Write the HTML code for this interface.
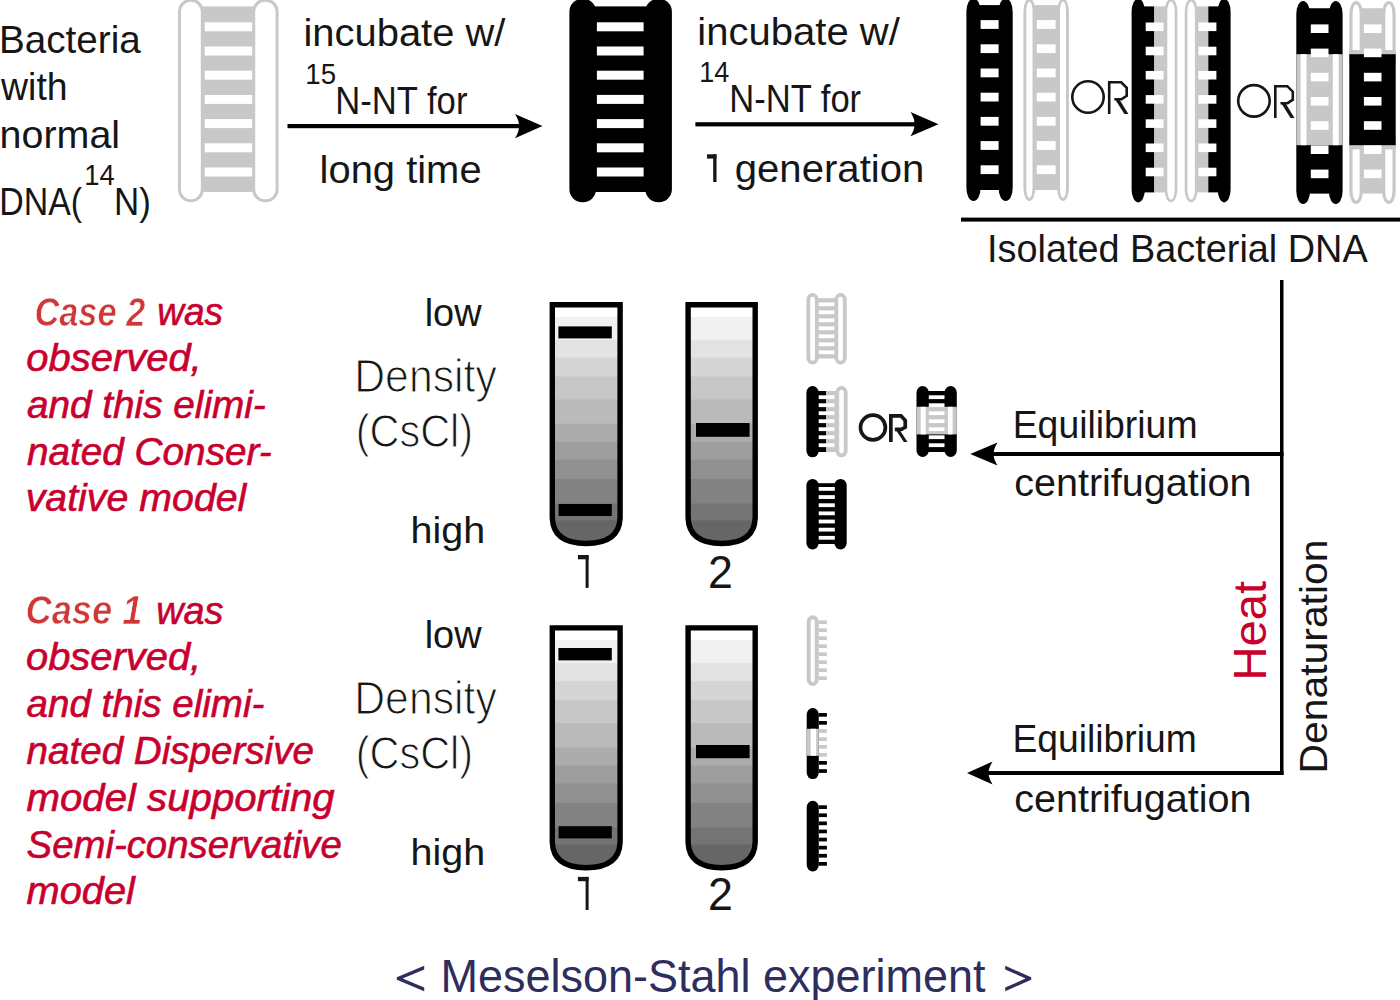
<!DOCTYPE html>
<html><head><meta charset="utf-8"><style>
html,body{margin:0;padding:0;background:#fff;width:1400px;height:1000px;overflow:hidden}
svg{display:block}
</style></head><body>
<svg width="1400" height="1000" viewBox="0 0 1400 1000">
<defs><filter id="soft" x="-5%" y="-20%" width="110%" height="140%"><feGaussianBlur stdDeviation="0.55"/></filter></defs>
<rect width="1400" height="1000" fill="#fff"/>
<rect x="200.00" y="6.40" width="56.00" height="185.60" fill="#c8c8c8"/>
<rect x="178.00" y="-1.20" width="25.80" height="203.50" rx="12.8" ry="12.8" fill="#c8c8c8"/>
<rect x="181.00" y="1.80" width="19.80" height="197.50" rx="9.8" ry="9.8" fill="#fff"/>
<rect x="252.20" y="-1.20" width="26.40" height="203.50" rx="12.8" ry="12.8" fill="#c8c8c8"/>
<rect x="255.20" y="1.80" width="20.40" height="197.50" rx="9.8" ry="9.8" fill="#fff"/>
<rect x="204.70" y="22.30" width="47.50" height="9.00" fill="#fff"/>
<rect x="204.70" y="46.50" width="47.50" height="9.00" fill="#fff"/>
<rect x="204.70" y="70.70" width="47.50" height="9.00" fill="#fff"/>
<rect x="204.70" y="94.90" width="47.50" height="9.00" fill="#fff"/>
<rect x="204.70" y="119.10" width="47.50" height="9.00" fill="#fff"/>
<rect x="204.70" y="143.30" width="47.50" height="9.00" fill="#fff"/>
<rect x="204.70" y="167.50" width="47.50" height="9.00" fill="#fff"/>
<rect x="580.00" y="6.40" width="80.00" height="185.60" fill="#000"/>
<rect x="569.40" y="-1.20" width="26.60" height="203.50" rx="13" ry="13" fill="#000"/>
<rect x="645.30" y="-1.20" width="26.60" height="203.50" rx="13" ry="13" fill="#000"/>
<rect x="596.90" y="22.30" width="46.70" height="9.00" fill="#fff"/>
<rect x="596.90" y="46.50" width="46.70" height="9.00" fill="#fff"/>
<rect x="596.90" y="70.70" width="46.70" height="9.00" fill="#fff"/>
<rect x="596.90" y="94.90" width="46.70" height="9.00" fill="#fff"/>
<rect x="596.90" y="119.10" width="46.70" height="9.00" fill="#fff"/>
<rect x="596.90" y="143.30" width="46.70" height="9.00" fill="#fff"/>
<rect x="596.90" y="167.50" width="46.70" height="9.00" fill="#fff"/>
<rect x="287.5" y="124" width="232" height="4.2" fill="#000"/>
<path d="M515,114 Q519.5,121 518.8,126.1 Q519.5,131 515,138.3 L542.5,126.1 Z" fill="#000"/>
<rect x="695.4" y="122.2" width="220" height="4.2" fill="#000"/>
<path d="M910.5,112 Q915,119 914.3,124.3 Q915,129 910.5,136.3 L938.5,124.3 Z" fill="#000"/>
<rect x="972.00" y="5.10" width="35.00" height="184.90" fill="#000"/>
<rect x="966.40" y="-1.50" width="14.20" height="202.50" rx="7.1" ry="13" fill="#000"/>
<rect x="998.60" y="-1.50" width="14.10" height="202.50" rx="7.1" ry="13" fill="#000"/>
<rect x="980.60" y="20.10" width="18.00" height="8.80" fill="#fff"/>
<rect x="980.60" y="44.30" width="18.00" height="8.80" fill="#fff"/>
<rect x="980.60" y="68.50" width="18.00" height="8.80" fill="#fff"/>
<rect x="980.60" y="92.70" width="18.00" height="8.80" fill="#fff"/>
<rect x="980.60" y="116.90" width="18.00" height="8.80" fill="#fff"/>
<rect x="980.60" y="141.10" width="18.00" height="8.80" fill="#fff"/>
<rect x="980.60" y="165.30" width="18.00" height="8.80" fill="#fff"/>
<rect x="1033.00" y="5.10" width="26.00" height="184.90" fill="#c8c8c8"/>
<rect x="1023.40" y="-1.50" width="12.00" height="202.50" rx="6" ry="13" fill="#c8c8c8"/>
<rect x="1026.30" y="1.40" width="6.20" height="196.70" rx="3.1" ry="10.1" fill="#fff"/>
<rect x="1057.10" y="-1.50" width="11.80" height="202.50" rx="6" ry="13" fill="#c8c8c8"/>
<rect x="1060.00" y="1.40" width="6.00" height="196.70" rx="3.1" ry="10.1" fill="#fff"/>
<rect x="1036.70" y="20.10" width="18.90" height="8.80" fill="#fff"/>
<rect x="1036.70" y="44.30" width="18.90" height="8.80" fill="#fff"/>
<rect x="1036.70" y="68.50" width="18.90" height="8.80" fill="#fff"/>
<rect x="1036.70" y="92.70" width="18.90" height="8.80" fill="#fff"/>
<rect x="1036.70" y="116.90" width="18.90" height="8.80" fill="#fff"/>
<rect x="1036.70" y="141.10" width="18.90" height="8.80" fill="#fff"/>
<rect x="1036.70" y="165.30" width="18.90" height="8.80" fill="#fff"/>
<rect x="1140.00" y="6.40" width="14.30" height="186.00" fill="#000"/>
<rect x="1154.30" y="6.40" width="12.70" height="186.00" fill="#c8c8c8"/>
<rect x="1131.60" y="-1.20" width="13.30" height="203.60" rx="6.6" ry="13" fill="#000"/>
<rect x="1164.60" y="-1.20" width="12.80" height="203.60" rx="6.4" ry="13" fill="#c8c8c8"/>
<rect x="1167.30" y="1.50" width="7.40" height="198.20" rx="3.7" ry="10.3" fill="#fff"/>
<rect x="1145.70" y="22.50" width="17.80" height="8.60" fill="#fff"/>
<rect x="1145.70" y="46.70" width="17.80" height="8.60" fill="#fff"/>
<rect x="1145.70" y="70.90" width="17.80" height="8.60" fill="#fff"/>
<rect x="1145.70" y="95.10" width="17.80" height="8.60" fill="#fff"/>
<rect x="1145.70" y="119.30" width="17.80" height="8.60" fill="#fff"/>
<rect x="1145.70" y="143.50" width="17.80" height="8.60" fill="#fff"/>
<rect x="1145.70" y="167.70" width="17.80" height="8.60" fill="#fff"/>
<rect x="1196.00" y="6.40" width="12.30" height="186.00" fill="#c8c8c8"/>
<rect x="1208.30" y="6.40" width="13.70" height="186.00" fill="#000"/>
<rect x="1184.70" y="-1.20" width="12.90" height="203.60" rx="6.4" ry="13" fill="#c8c8c8"/>
<rect x="1187.40" y="1.50" width="7.50" height="198.20" rx="3.7" ry="10.3" fill="#fff"/>
<rect x="1217.70" y="-1.20" width="12.90" height="203.60" rx="6.5" ry="13" fill="#000"/>
<rect x="1198.40" y="22.50" width="18.00" height="8.60" fill="#fff"/>
<rect x="1198.40" y="46.70" width="18.00" height="8.60" fill="#fff"/>
<rect x="1198.40" y="70.90" width="18.00" height="8.60" fill="#fff"/>
<rect x="1198.40" y="95.10" width="18.00" height="8.60" fill="#fff"/>
<rect x="1198.40" y="119.30" width="18.00" height="8.60" fill="#fff"/>
<rect x="1198.40" y="143.50" width="18.00" height="8.60" fill="#fff"/>
<rect x="1198.40" y="167.70" width="18.00" height="8.60" fill="#fff"/>
<rect x="1300.00" y="8.25" width="40.00" height="185.35" fill="#000"/>
<rect x="1296.30" y="1.00" width="13.70" height="203.00" rx="6.9" ry="13" fill="#000"/>
<rect x="1328.90" y="1.00" width="13.70" height="203.00" rx="6.9" ry="13" fill="#000"/>
<rect x="1296.30" y="54.20" width="46.30" height="91.00" fill="#c8c8c8"/>
<rect x="1300.60" y="54.20" width="5.90" height="91.00" fill="#fff"/>
<rect x="1332.80" y="54.20" width="5.90" height="91.00" fill="#fff"/>
<rect x="1310.80" y="24.40" width="17.70" height="8.60" fill="#fff"/>
<rect x="1310.80" y="48.60" width="17.70" height="8.60" fill="#fff"/>
<rect x="1310.80" y="72.80" width="17.70" height="8.60" fill="#fff"/>
<rect x="1310.80" y="97.00" width="17.70" height="8.60" fill="#fff"/>
<rect x="1310.80" y="121.20" width="17.70" height="8.60" fill="#fff"/>
<rect x="1310.80" y="145.40" width="17.70" height="8.60" fill="#fff"/>
<rect x="1310.80" y="169.60" width="17.70" height="8.60" fill="#fff"/>
<rect x="1355.00" y="8.25" width="35.00" height="185.35" fill="#c8c8c8"/>
<rect x="1349.30" y="1.00" width="13.70" height="69.00" rx="6.8" ry="13" fill="#c8c8c8"/>
<rect x="1352.60" y="4.30" width="7.10" height="62.40" rx="3.5" ry="9.7" fill="#fff"/>
<rect x="1382.00" y="1.00" width="13.70" height="69.00" rx="6.8" ry="13" fill="#c8c8c8"/>
<rect x="1385.30" y="4.30" width="7.10" height="62.40" rx="3.5" ry="9.7" fill="#fff"/>
<rect x="1349.30" y="130.00" width="13.70" height="74.00" rx="6.8" ry="13" fill="#c8c8c8"/>
<rect x="1352.60" y="133.30" width="7.10" height="67.40" rx="3.5" ry="9.7" fill="#fff"/>
<rect x="1382.00" y="130.00" width="13.70" height="74.00" rx="6.8" ry="13" fill="#c8c8c8"/>
<rect x="1385.30" y="133.30" width="7.10" height="67.40" rx="3.5" ry="9.7" fill="#fff"/>
<rect x="1349.30" y="50.00" width="46.40" height="4.20" fill="#c8c8c8"/>
<rect x="1349.30" y="145.20" width="46.40" height="4.20" fill="#c8c8c8"/>
<rect x="1349.30" y="54.20" width="46.40" height="91.00" fill="#000"/>
<rect x="1363.90" y="24.40" width="17.60" height="8.60" fill="#fff"/>
<rect x="1363.90" y="48.60" width="17.60" height="8.60" fill="#fff"/>
<rect x="1363.90" y="72.80" width="17.60" height="8.60" fill="#fff"/>
<rect x="1363.90" y="97.00" width="17.60" height="8.60" fill="#fff"/>
<rect x="1363.90" y="121.20" width="17.60" height="8.60" fill="#fff"/>
<rect x="1363.90" y="145.40" width="17.60" height="8.60" fill="#fff"/>
<rect x="1363.90" y="169.60" width="17.60" height="8.60" fill="#fff"/>
<rect x="961.00" y="217.60" width="439.00" height="4.00" fill="#000"/>
<clipPath id="clip549_302"><path d="M552.3000000000001,304.8 L552.3000000000001,518.2 Q553.3000000000001,543.5 586.2,543.5 Q619.0999999999999,543.5 620.0999999999999,518.2 L620.0999999999999,304.8 Z"/></clipPath>
<g clip-path="url(#clip549_302)"><rect x="549.6" y="302.10" width="73.19999999999993" height="15.50" fill="#ffffff"/><rect x="549.6" y="317.00" width="73.19999999999993" height="23.40" fill="#f1f1f1"/><rect x="549.6" y="339.80" width="73.19999999999993" height="18.40" fill="#e3e3e3"/><rect x="549.6" y="357.60" width="73.19999999999993" height="19.50" fill="#d5d5d5"/><rect x="549.6" y="376.50" width="73.19999999999993" height="23.60" fill="#c7c7c7"/><rect x="549.6" y="399.50" width="73.19999999999993" height="24.90" fill="#bababa"/><rect x="549.6" y="423.80" width="73.19999999999993" height="18.70" fill="#acacac"/><rect x="549.6" y="441.90" width="73.19999999999993" height="18.40" fill="#9e9e9e"/><rect x="549.6" y="459.70" width="73.19999999999993" height="19.90" fill="#909090"/><rect x="549.6" y="479.00" width="73.19999999999993" height="25.10" fill="#828282"/><rect x="549.6" y="503.50" width="73.19999999999993" height="17.50" fill="#747474"/><rect x="549.6" y="520.40" width="73.19999999999993" height="40.20" fill="#666666"/></g>
<rect x="558.40" y="326.40" width="53.40" height="12.00" fill="#000"/>
<rect x="558.60" y="504.00" width="53.20" height="12.00" fill="#000"/>
<path d="M552.3000000000001,304.8 L552.3000000000001,518.2 Q553.3000000000001,543.5 586.2,543.5 Q619.0999999999999,543.5 620.0999999999999,518.2 L620.0999999999999,304.8 Z" fill="none" stroke="#000" stroke-width="5.4" stroke-linejoin="miter"/>
<clipPath id="clip685_302"><path d="M688.1,304.8 L688.1,518.2 Q689.1,543.5 721.65,543.5 Q754.1999999999999,543.5 755.1999999999999,518.2 L755.1999999999999,304.8 Z"/></clipPath>
<g clip-path="url(#clip685_302)"><rect x="685.4" y="302.10" width="72.5" height="15.50" fill="#ffffff"/><rect x="685.4" y="317.00" width="72.5" height="23.40" fill="#f1f1f1"/><rect x="685.4" y="339.80" width="72.5" height="18.40" fill="#e3e3e3"/><rect x="685.4" y="357.60" width="72.5" height="19.50" fill="#d5d5d5"/><rect x="685.4" y="376.50" width="72.5" height="23.60" fill="#c7c7c7"/><rect x="685.4" y="399.50" width="72.5" height="24.90" fill="#bababa"/><rect x="685.4" y="423.80" width="72.5" height="18.70" fill="#acacac"/><rect x="685.4" y="441.90" width="72.5" height="18.40" fill="#9e9e9e"/><rect x="685.4" y="459.70" width="72.5" height="19.90" fill="#909090"/><rect x="685.4" y="479.00" width="72.5" height="25.10" fill="#828282"/><rect x="685.4" y="503.50" width="72.5" height="17.50" fill="#747474"/><rect x="685.4" y="520.40" width="72.5" height="40.20" fill="#666666"/></g>
<rect x="696.00" y="423.00" width="53.60" height="13.80" fill="#000"/>
<path d="M688.1,304.8 L688.1,518.2 Q689.1,543.5 721.65,543.5 Q754.1999999999999,543.5 755.1999999999999,518.2 L755.1999999999999,304.8 Z" fill="none" stroke="#000" stroke-width="5.4" stroke-linejoin="miter"/>
<clipPath id="clip549_625"><path d="M552.3000000000001,627.9000000000001 L552.3000000000001,842.4 Q553.3000000000001,867.6999999999999 586.2,867.6999999999999 Q619.0999999999999,867.6999999999999 620.0999999999999,842.4 L620.0999999999999,627.9000000000001 Z"/></clipPath>
<g clip-path="url(#clip549_625)"><rect x="549.6" y="625.20" width="73.19999999999993" height="15.57" fill="#ffffff"/><rect x="549.6" y="640.17" width="73.19999999999993" height="23.50" fill="#f1f1f1"/><rect x="549.6" y="663.07" width="73.19999999999993" height="18.48" fill="#e3e3e3"/><rect x="549.6" y="680.95" width="73.19999999999993" height="19.59" fill="#d5d5d5"/><rect x="549.6" y="699.94" width="73.19999999999993" height="23.70" fill="#c7c7c7"/><rect x="549.6" y="723.04" width="73.19999999999993" height="25.01" fill="#bababa"/><rect x="549.6" y="747.45" width="73.19999999999993" height="18.78" fill="#acacac"/><rect x="549.6" y="765.63" width="73.19999999999993" height="18.48" fill="#9e9e9e"/><rect x="549.6" y="783.51" width="73.19999999999993" height="19.99" fill="#909090"/><rect x="549.6" y="802.90" width="73.19999999999993" height="25.21" fill="#828282"/><rect x="549.6" y="827.51" width="73.19999999999993" height="17.58" fill="#747474"/><rect x="549.6" y="844.48" width="73.19999999999993" height="40.38" fill="#666666"/></g>
<rect x="558.40" y="648.00" width="53.40" height="12.40" fill="#000"/>
<rect x="558.60" y="826.20" width="53.20" height="12.20" fill="#000"/>
<path d="M552.3000000000001,627.9000000000001 L552.3000000000001,842.4 Q553.3000000000001,867.6999999999999 586.2,867.6999999999999 Q619.0999999999999,867.6999999999999 620.0999999999999,842.4 L620.0999999999999,627.9000000000001 Z" fill="none" stroke="#000" stroke-width="5.4" stroke-linejoin="miter"/>
<clipPath id="clip685_625"><path d="M688.1,627.9000000000001 L688.1,842.4 Q689.1,867.6999999999999 721.65,867.6999999999999 Q754.1999999999999,867.6999999999999 755.1999999999999,842.4 L755.1999999999999,627.9000000000001 Z"/></clipPath>
<g clip-path="url(#clip685_625)"><rect x="685.4" y="625.20" width="72.5" height="15.57" fill="#ffffff"/><rect x="685.4" y="640.17" width="72.5" height="23.50" fill="#f1f1f1"/><rect x="685.4" y="663.07" width="72.5" height="18.48" fill="#e3e3e3"/><rect x="685.4" y="680.95" width="72.5" height="19.59" fill="#d5d5d5"/><rect x="685.4" y="699.94" width="72.5" height="23.70" fill="#c7c7c7"/><rect x="685.4" y="723.04" width="72.5" height="25.01" fill="#bababa"/><rect x="685.4" y="747.45" width="72.5" height="18.78" fill="#acacac"/><rect x="685.4" y="765.63" width="72.5" height="18.48" fill="#9e9e9e"/><rect x="685.4" y="783.51" width="72.5" height="19.99" fill="#909090"/><rect x="685.4" y="802.90" width="72.5" height="25.21" fill="#828282"/><rect x="685.4" y="827.51" width="72.5" height="17.58" fill="#747474"/><rect x="685.4" y="844.48" width="72.5" height="40.38" fill="#666666"/></g>
<rect x="696.00" y="745.00" width="53.60" height="13.20" fill="#000"/>
<path d="M688.1,627.9000000000001 L688.1,842.4 Q689.1,867.6999999999999 721.65,867.6999999999999 Q754.1999999999999,867.6999999999999 755.1999999999999,842.4 L755.1999999999999,627.9000000000001 Z" fill="none" stroke="#000" stroke-width="5.4" stroke-linejoin="miter"/>
<rect x="713.20" y="154.30" width="3.30" height="27.70" fill="#161616"/>
<rect x="707.00" y="154.30" width="9.50" height="4.30" fill="#161616"/>
<rect x="585.60" y="555.00" width="3.00" height="32.90" fill="#161616"/>
<rect x="577.90" y="555.00" width="10.70" height="4.30" fill="#161616"/>
<rect x="585.60" y="876.90" width="3.00" height="33.10" fill="#161616"/>
<rect x="577.90" y="876.90" width="10.70" height="4.30" fill="#161616"/>
<rect x="816.00" y="298.20" width="21.40" height="60.30" fill="#c8c8c8"/>
<rect x="806.40" y="293.00" width="12.30" height="71.50" rx="6.1" ry="6.5" fill="#c8c8c8"/>
<rect x="810.20" y="296.80" width="4.70" height="63.90" rx="2.3" ry="2.7" fill="#fff"/>
<rect x="834.40" y="293.00" width="12.30" height="71.50" rx="6.1" ry="6.5" fill="#c8c8c8"/>
<rect x="838.20" y="296.80" width="4.70" height="63.90" rx="2.3" ry="2.7" fill="#fff"/>
<rect x="818.70" y="302.40" width="15.70" height="3.80" fill="#fff"/>
<rect x="818.70" y="310.40" width="15.70" height="3.80" fill="#fff"/>
<rect x="818.70" y="318.40" width="15.70" height="3.80" fill="#fff"/>
<rect x="818.70" y="326.40" width="15.70" height="3.80" fill="#fff"/>
<rect x="818.70" y="334.40" width="15.70" height="3.80" fill="#fff"/>
<rect x="818.70" y="342.40" width="15.70" height="3.80" fill="#fff"/>
<rect x="818.70" y="350.40" width="15.70" height="3.80" fill="#fff"/>
<rect x="814.00" y="391.00" width="12.30" height="61.00" fill="#000"/>
<rect x="826.30" y="391.00" width="11.70" height="61.00" fill="#c8c8c8"/>
<rect x="806.40" y="386.00" width="12.30" height="71.30" rx="6.1" ry="6.5" fill="#000"/>
<rect x="835.40" y="386.00" width="12.20" height="71.30" rx="6.1" ry="6.5" fill="#c8c8c8"/>
<rect x="839.20" y="389.80" width="4.60" height="63.70" rx="2.3" ry="2.7" fill="#fff"/>
<rect x="818.70" y="395.30" width="15.70" height="3.80" fill="#fff"/>
<rect x="818.70" y="403.30" width="15.70" height="3.80" fill="#fff"/>
<rect x="818.70" y="411.30" width="15.70" height="3.80" fill="#fff"/>
<rect x="818.70" y="419.30" width="15.70" height="3.80" fill="#fff"/>
<rect x="818.70" y="427.30" width="15.70" height="3.80" fill="#fff"/>
<rect x="818.70" y="435.30" width="15.70" height="3.80" fill="#fff"/>
<rect x="818.70" y="443.30" width="15.70" height="3.80" fill="#fff"/>
<rect x="920.00" y="391.00" width="32.00" height="61.00" fill="#000"/>
<rect x="916.50" y="386.00" width="12.30" height="71.00" rx="6.1" ry="6.5" fill="#000"/>
<rect x="944.50" y="386.00" width="12.30" height="71.00" rx="6.1" ry="6.5" fill="#000"/>
<rect x="916.50" y="406.80" width="40.30" height="27.60" fill="#c8c8c8"/>
<rect x="920.70" y="406.80" width="5.10" height="27.60" fill="#fff"/>
<rect x="947.90" y="406.80" width="4.70" height="27.60" fill="#fff"/>
<rect x="928.80" y="395.30" width="15.70" height="3.80" fill="#fff"/>
<rect x="928.80" y="403.30" width="15.70" height="3.80" fill="#fff"/>
<rect x="928.80" y="411.30" width="15.70" height="3.80" fill="#fff"/>
<rect x="928.80" y="419.30" width="15.70" height="3.80" fill="#fff"/>
<rect x="928.80" y="427.30" width="15.70" height="3.80" fill="#fff"/>
<rect x="928.80" y="435.30" width="15.70" height="3.80" fill="#fff"/>
<rect x="928.80" y="443.30" width="15.70" height="3.80" fill="#fff"/>
<rect x="815.00" y="483.20" width="23.00" height="60.80" fill="#000"/>
<rect x="806.40" y="478.90" width="12.30" height="70.50" rx="6.1" ry="6.5" fill="#000"/>
<rect x="834.40" y="478.90" width="12.30" height="70.50" rx="6.1" ry="6.5" fill="#000"/>
<rect x="818.70" y="487.00" width="16.10" height="3.80" fill="#fff"/>
<rect x="818.70" y="495.15" width="16.10" height="3.80" fill="#fff"/>
<rect x="818.70" y="503.30" width="16.10" height="3.80" fill="#fff"/>
<rect x="818.70" y="511.45" width="16.10" height="3.80" fill="#fff"/>
<rect x="818.70" y="519.60" width="16.10" height="3.80" fill="#fff"/>
<rect x="818.70" y="527.75" width="16.10" height="3.80" fill="#fff"/>
<rect x="818.70" y="535.90" width="16.10" height="3.80" fill="#fff"/>
<rect x="806.70" y="615.30" width="12.10" height="70.70" rx="6" ry="6.5" fill="#c8c8c8"/>
<rect x="810.70" y="619.30" width="4.10" height="62.70" rx="2.0" ry="2.5" fill="#fff"/>
<rect x="818.80" y="620.30" width="8.10" height="3.70" fill="#c8c8c8"/>
<rect x="818.80" y="628.30" width="8.10" height="3.70" fill="#c8c8c8"/>
<rect x="818.80" y="636.30" width="8.10" height="3.70" fill="#c8c8c8"/>
<rect x="818.80" y="644.30" width="8.10" height="3.70" fill="#c8c8c8"/>
<rect x="818.80" y="652.30" width="8.10" height="3.70" fill="#c8c8c8"/>
<rect x="818.80" y="660.30" width="8.10" height="3.70" fill="#c8c8c8"/>
<rect x="818.80" y="668.30" width="8.10" height="3.70" fill="#c8c8c8"/>
<rect x="818.80" y="676.30" width="8.10" height="3.70" fill="#c8c8c8"/>
<rect x="806.70" y="708.00" width="12.10" height="71.10" rx="6" ry="6.5" fill="#000"/>
<rect x="806.70" y="728.80" width="12.10" height="27.00" fill="#c8c8c8"/>
<rect x="810.70" y="728.80" width="5.40" height="27.00" fill="#fff"/>
<rect x="818.80" y="713.00" width="8.10" height="3.70" fill="#000"/>
<rect x="818.80" y="721.00" width="8.10" height="3.70" fill="#000"/>
<rect x="818.80" y="729.20" width="8.10" height="3.70" fill="#c8c8c8"/>
<rect x="818.80" y="737.30" width="8.10" height="3.70" fill="#c8c8c8"/>
<rect x="818.80" y="745.00" width="8.10" height="3.70" fill="#c8c8c8"/>
<rect x="818.80" y="753.00" width="8.10" height="3.70" fill="#c8c8c8"/>
<rect x="818.80" y="761.00" width="8.10" height="3.70" fill="#000"/>
<rect x="818.80" y="769.20" width="8.10" height="3.70" fill="#000"/>
<rect x="806.70" y="800.80" width="12.10" height="70.60" rx="6" ry="6.5" fill="#000"/>
<rect x="818.80" y="805.30" width="8.10" height="3.70" fill="#000"/>
<rect x="818.80" y="813.40" width="8.10" height="3.70" fill="#000"/>
<rect x="818.80" y="821.50" width="8.10" height="3.70" fill="#000"/>
<rect x="818.80" y="829.60" width="8.10" height="3.70" fill="#000"/>
<rect x="818.80" y="837.70" width="8.10" height="3.70" fill="#000"/>
<rect x="818.80" y="845.80" width="8.10" height="3.70" fill="#000"/>
<rect x="818.80" y="853.90" width="8.10" height="3.70" fill="#000"/>
<rect x="818.80" y="862.00" width="8.10" height="3.70" fill="#000"/>
<circle cx="1088" cy="97" r="15.70" fill="none" stroke="#161616" stroke-width="2.6"/>
<path d="M1109.20,114.00 L1109.20,82.30 L1121.20,82.30 L1126.70,87.80 L1126.70,95.80 L1121.50,99.30 L1114.40,99.30" fill="none" stroke="#161616" stroke-width="2.6" stroke-linejoin="miter" stroke-miterlimit="4"/>
<path d="M1114.40,98.20 L1118.70,98.20 L1128.40,114.00 L1124.40,114.00 Z" fill="#161616"/>
<circle cx="1253.95" cy="100.85" r="15.75" fill="none" stroke="#161616" stroke-width="2.6"/>
<path d="M1275.30,117.90 L1275.30,86.20 L1287.30,86.20 L1292.80,91.70 L1292.80,99.70 L1287.60,103.20 L1280.50,103.20" fill="none" stroke="#161616" stroke-width="2.6" stroke-linejoin="miter" stroke-miterlimit="4"/>
<path d="M1280.50,102.10 L1284.80,102.10 L1294.50,117.90 L1290.50,117.90 Z" fill="#161616"/>
<circle cx="872.95" cy="427.5" r="12.45" fill="none" stroke="#161616" stroke-width="3.7"/>
<path d="M890.85,441.90 L890.85,415.85 L900.97,415.85 L905.25,420.50 L905.25,427.26 L901.24,429.46 L894.85,429.46" fill="none" stroke="#161616" stroke-width="3.7" stroke-linejoin="miter" stroke-miterlimit="4"/>
<path d="M894.85,428.53 L898.72,428.53 L907.50,441.90 L903.86,441.90 Z" fill="#161616"/>
<path d="M424.2,965.8 L396.8,977.2 L396.8,979.8 L424.2,991.2 L424.2,987.6 L402.6,978.5 L424.2,969.4 Z" fill="#2e2e5e"/>
<path d="M1005.2,965.8 L1031.2,977.2 L1031.2,979.8 L1005.2,991.2 L1005.2,987.6 L1025.6,978.5 L1005.2,969.4 Z" fill="#2e2e5e"/>
<rect x="1280.00" y="280.00" width="3.50" height="495.00" fill="#000"/>
<rect x="990.00" y="452.00" width="293.50" height="4.00" fill="#000"/>
<path d="M997.5,442.5 Q993,450 993.8,454 Q993,458 997.5,465.5 L970.2,454 Z" fill="#000"/>
<rect x="988.00" y="771.00" width="295.50" height="4.00" fill="#000"/>
<path d="M992.6,761.5 Q988,769 988.8,773 Q988,777 992.6,784.5 L967,773 Z" fill="#000"/>
<text transform="translate(-1.02,52.50) scale(1.0038,1.0)" style="font-family:'Liberation Sans', sans-serif;font-size:38.5px;font-weight:normal;font-style:normal;fill:#161616">Bacteria</text>
<text transform="translate(1.08,100.00) scale(0.9715,1.0)" style="font-family:'Liberation Sans', sans-serif;font-size:38.5px;font-weight:normal;font-style:normal;fill:#161616">with</text>
<text transform="translate(-0.47,147.80) scale(1.0245,1.0)" style="font-family:'Liberation Sans', sans-serif;font-size:38.5px;font-weight:normal;font-style:normal;fill:#161616">normal</text>
<text transform="translate(-0.65,215.00) scale(0.8577,1.0)" style="font-family:'Liberation Sans', sans-serif;font-size:39.5px;font-weight:normal;font-style:normal;fill:#161616">DNA(</text>
<text transform="translate(84.29,184.60) scale(0.9261,1.0)" style="font-family:'Liberation Sans', sans-serif;font-size:29.5px;font-weight:normal;font-style:normal;fill:#161616">14</text>
<text transform="translate(114.07,215.00) scale(0.8837,1.0)" style="font-family:'Liberation Sans', sans-serif;font-size:39.5px;font-weight:normal;font-style:normal;fill:#161616">N)</text>
<text transform="translate(303.50,45.80) scale(1.0237,1.0)" style="font-family:'Liberation Sans', sans-serif;font-size:39px;font-weight:normal;font-style:normal;fill:#161616">incubate w/</text>
<text transform="translate(305.37,83.90) scale(0.9371,1.0)" style="font-family:'Liberation Sans', sans-serif;font-size:29.5px;font-weight:normal;font-style:normal;fill:#161616">15</text>
<text transform="translate(335.19,113.60) scale(0.8776,1.0)" style="font-family:'Liberation Sans', sans-serif;font-size:39.5px;font-weight:normal;font-style:normal;fill:#161616">N-NT for</text>
<text transform="translate(319.60,182.60) scale(1.0507,1.0)" style="font-family:'Liberation Sans', sans-serif;font-size:38px;font-weight:normal;font-style:normal;fill:#161616">long time</text>
<text transform="translate(697.30,44.70) scale(1.0268,1.0)" style="font-family:'Liberation Sans', sans-serif;font-size:39px;font-weight:normal;font-style:normal;fill:#161616">incubate w/</text>
<text transform="translate(699.31,81.90) scale(0.9162,1.0)" style="font-family:'Liberation Sans', sans-serif;font-size:29.5px;font-weight:normal;font-style:normal;fill:#161616">14</text>
<text transform="translate(729.30,111.70) scale(0.8749,1.0)" style="font-family:'Liberation Sans', sans-serif;font-size:39.5px;font-weight:normal;font-style:normal;fill:#161616">N-NT for</text>
<text transform="translate(734.75,182.00) scale(1.0157,1.0)" style="font-family:'Liberation Sans', sans-serif;font-size:39.5px;font-weight:normal;font-style:normal;fill:#161616">generation</text>
<text transform="translate(987.04,262.00) scale(0.9960,1.0)" style="font-family:'Liberation Sans', sans-serif;font-size:38px;font-weight:normal;font-style:normal;fill:#161616">Isolated Bacterial DNA</text>
<text transform="translate(424.63,325.70) scale(0.9981,1.0)" style="font-family:'Liberation Sans', sans-serif;font-size:38px;font-weight:normal;font-style:normal;fill:#161616">low</text>
<text transform="translate(354.26,391.80) scale(0.9095,1.0)" style="font-family:'Liberation Sans', sans-serif;font-size:47px;font-weight:normal;font-style:normal;fill:#161616;stroke:#fff;stroke-width:1.1px;paint-order:fill">Density</text>
<text transform="translate(355.66,446.50) scale(0.8825,1.0)" style="font-family:'Liberation Sans', sans-serif;font-size:47px;font-weight:normal;font-style:normal;fill:#161616;stroke:#fff;stroke-width:1.1px;paint-order:fill">(CsCl)</text>
<text transform="translate(410.53,542.70) scale(1.0534,1.0)" style="font-family:'Liberation Sans', sans-serif;font-size:37.5px;font-weight:normal;font-style:normal;fill:#161616">high</text>
<text transform="translate(424.63,647.90) scale(0.9981,1.0)" style="font-family:'Liberation Sans', sans-serif;font-size:38px;font-weight:normal;font-style:normal;fill:#161616">low</text>
<text transform="translate(354.26,714.00) scale(0.9095,1.0)" style="font-family:'Liberation Sans', sans-serif;font-size:47px;font-weight:normal;font-style:normal;fill:#161616;stroke:#fff;stroke-width:1.1px;paint-order:fill">Density</text>
<text transform="translate(355.66,768.70) scale(0.8825,1.0)" style="font-family:'Liberation Sans', sans-serif;font-size:47px;font-weight:normal;font-style:normal;fill:#161616;stroke:#fff;stroke-width:1.1px;paint-order:fill">(CsCl)</text>
<text transform="translate(410.53,864.90) scale(1.0534,1.0)" style="font-family:'Liberation Sans', sans-serif;font-size:37.5px;font-weight:normal;font-style:normal;fill:#161616">high</text>
<text transform="translate(707.90,587.90) scale(0.9739,1.0)" style="font-family:'Liberation Sans', sans-serif;font-size:46px;font-weight:normal;font-style:normal;fill:#161616">2</text>
<text transform="translate(707.90,910.00) scale(0.9739,1.0)" style="font-family:'Liberation Sans', sans-serif;font-size:46px;font-weight:normal;font-style:normal;fill:#161616">2</text>
<text transform="translate(1012.68,437.60) scale(0.9583,1.0)" style="font-family:'Liberation Sans', sans-serif;font-size:39px;font-weight:normal;font-style:normal;fill:#161616">Equilibrium</text>
<text transform="translate(1014.16,495.60) scale(1.0141,1.0)" style="font-family:'Liberation Sans', sans-serif;font-size:39px;font-weight:normal;font-style:normal;fill:#161616">centrifugation</text>
<text transform="translate(1012.49,752.00) scale(0.9551,1.0)" style="font-family:'Liberation Sans', sans-serif;font-size:39px;font-weight:normal;font-style:normal;fill:#161616">Equilibrium</text>
<text transform="translate(1014.16,811.70) scale(1.0141,1.0)" style="font-family:'Liberation Sans', sans-serif;font-size:39px;font-weight:normal;font-style:normal;fill:#161616">centrifugation</text>
<text transform="translate(1265.60,680.49) rotate(-90) scale(1.0153,1)" style="font-family:'Liberation Sans', sans-serif;font-size:46.5px;font-weight:normal;font-style:normal;fill:#c8002e">Heat</text>
<text transform="translate(1327.00,773.49) rotate(-90) scale(1.0619,1)" style="font-family:'Liberation Sans', sans-serif;font-size:38.5px;font-weight:normal;font-style:normal;fill:#161616">Denaturation</text>
<text transform="translate(34.39,326.00) scale(0.8600,1.0)" style="font-family:'Liberation Sans', sans-serif;font-size:40px;font-weight:bold;font-style:italic;fill:#d03838;stroke:#fff;stroke-width:0.7px;paint-order:fill" filter="url(#soft)">Case 2</text>
<text transform="translate(157.27,325.00) scale(0.9739,1.0)" style="font-family:'Liberation Sans', sans-serif;font-size:38px;font-weight:normal;font-style:italic;fill:#c8002e;stroke:#c8002e;stroke-width:0.6px;paint-order:stroke">was</text>
<text transform="translate(26.25,371.00) scale(1.0515,1.0)" style="font-family:'Liberation Sans', sans-serif;font-size:38px;font-weight:normal;font-style:italic;fill:#c8002e;stroke:#c8002e;stroke-width:0.6px;paint-order:stroke">observed,</text>
<text transform="translate(26.89,418.00) scale(1.0191,1.0)" style="font-family:'Liberation Sans', sans-serif;font-size:38px;font-weight:normal;font-style:italic;fill:#c8002e;stroke:#c8002e;stroke-width:0.6px;paint-order:stroke">and this elimi-</text>
<text transform="translate(26.89,465.00) scale(1.0199,1.0)" style="font-family:'Liberation Sans', sans-serif;font-size:38px;font-weight:normal;font-style:italic;fill:#c8002e;stroke:#c8002e;stroke-width:0.6px;paint-order:stroke">nated Conser-</text>
<text transform="translate(25.66,511.00) scale(1.0348,1.0)" style="font-family:'Liberation Sans', sans-serif;font-size:38px;font-weight:normal;font-style:italic;fill:#c8002e;stroke:#c8002e;stroke-width:0.6px;paint-order:stroke">vative model</text>
<text transform="translate(25.50,624.20) scale(0.9069,1.0)" style="font-family:'Liberation Sans', sans-serif;font-size:40px;font-weight:bold;font-style:italic;fill:#d03838;stroke:#fff;stroke-width:0.7px;paint-order:fill" filter="url(#soft)">Case 1</text>
<text transform="translate(156.23,623.50) scale(0.9938,1.0)" style="font-family:'Liberation Sans', sans-serif;font-size:38px;font-weight:normal;font-style:italic;fill:#c8002e;stroke:#c8002e;stroke-width:0.6px;paint-order:stroke">was</text>
<text transform="translate(25.95,670.00) scale(1.0503,1.0)" style="font-family:'Liberation Sans', sans-serif;font-size:38px;font-weight:normal;font-style:italic;fill:#c8002e;stroke:#c8002e;stroke-width:0.6px;paint-order:stroke">observed,</text>
<text transform="translate(26.60,717.00) scale(1.0144,1.0)" style="font-family:'Liberation Sans', sans-serif;font-size:38px;font-weight:normal;font-style:italic;fill:#c8002e;stroke:#c8002e;stroke-width:0.6px;paint-order:stroke">and this elimi-</text>
<text transform="translate(26.60,764.20) scale(1.0153,1.0)" style="font-family:'Liberation Sans', sans-serif;font-size:38px;font-weight:normal;font-style:italic;fill:#c8002e;stroke:#c8002e;stroke-width:0.6px;paint-order:stroke">nated Dispersive</text>
<text transform="translate(26.57,811.30) scale(1.0572,1.0)" style="font-family:'Liberation Sans', sans-serif;font-size:38px;font-weight:normal;font-style:italic;fill:#c8002e;stroke:#c8002e;stroke-width:0.6px;paint-order:stroke">model supporting</text>
<text transform="translate(26.60,857.60) scale(1.0090,1.0)" style="font-family:'Liberation Sans', sans-serif;font-size:38px;font-weight:normal;font-style:italic;fill:#c8002e;stroke:#c8002e;stroke-width:0.6px;paint-order:stroke">Semi-conservative</text>
<text transform="translate(26.58,903.80) scale(1.0465,1.0)" style="font-family:'Liberation Sans', sans-serif;font-size:38px;font-weight:normal;font-style:italic;fill:#c8002e;stroke:#c8002e;stroke-width:0.6px;paint-order:stroke">model</text>
<text transform="translate(440.49,991.60) scale(0.9696,1.0)" style="font-family:'Liberation Sans', sans-serif;font-size:46.4px;font-weight:normal;font-style:normal;fill:#2e2e5e">Meselson-Stahl experiment</text>
</svg>
</body></html>
